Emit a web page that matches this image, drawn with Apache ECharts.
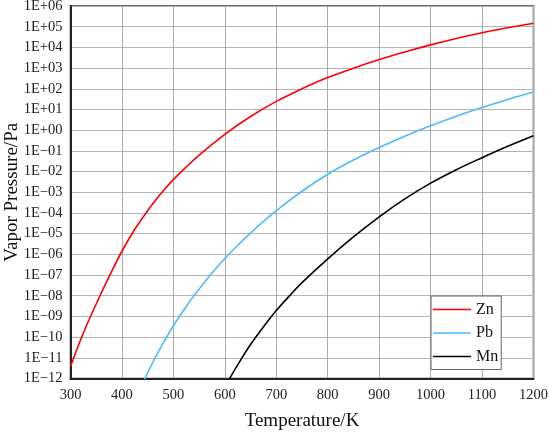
<!DOCTYPE html>
<html>
<head>
<meta charset="utf-8">
<script src="https://cdn.jsdelivr.net/npm/echarts@6/dist/echarts.min.js"></script>
<style>
html,body{margin:0;padding:0;background:#fff;}
#chart{width:550px;height:432px;}
</style>
</head>
<body>
<div id="chart"></div>
<script>
const seriesNames = ['Zn', 'Pb', 'Mn'];
const seriesColors = ['#ff0000', '#4dbbff', '#000000'];

const znT = [300,325,350,375,400,425,450,475,500,550,600,650,700,750,800,850,900,950,1000,1050,1100,1150,1200];
const znP = [3.80e-12,1.58e-10,3.98e-9,8.32e-8,1.41e-6,1.62e-5,1.29e-4,8.13e-4,4.07e-3,6.17e-2,0.631,4.57,24.5,100,347,977,2570,6030,13200,26900,51300,89100,148000];

const pbT = [440,450,475,500,525,550,575,600,625,650,675,700,750,800,850,900,950,1000,1050,1100,1150,1200];
const pbP = [5.62e-13,1.91e-12,3.02e-11,3.55e-10,3.02e-9,2.09e-8,1.26e-7,6.31e-7,2.75e-6,1.07e-5,3.89e-5,1.29e-4,1.12e-3,7.41e-3,3.63e-2,0.145,0.513,1.62,4.68,12.3,30.2,69.2];

const mnT = [600,625,650,675,700,725,750,800,850,900,950,1000,1050,1100,1150,1200];
const mnP = [3.98e-13,4.57e-12,4.37e-11,3.09e-10,1.91e-9,9.55e-9,4.27e-8,6.03e-7,6.92e-6,6.46e-5,4.79e-4,2.75e-3,1.23e-2,4.68e-2,0.166,0.537];

const xMin = 300, xMax = 1200, xStep = 100;
const yMin = 1e-12, yMax = 1e6;
const xTitle = 'Temperature/K';
const yTitle = 'Vapor Pressure/Pa';

const FONT = '"Liberation Serif", "Times New Roman", "DejaVu Serif", serif';

function zip(t, p) { return t.map((v, i) => [v, p[i]]); }
function sciLabel(v) {
  const e = Math.round(Math.log10(v));
  const s = e < 0 ? '\u2212' : '+';
  const a = Math.abs(e);
  return '1E' + s + (a < 10 ? '0' : '') + a;
}

const chart = echarts.init(document.getElementById('chart'), null, {renderer: 'canvas'});
const allData = [zip(znT, znP), zip(pbT, pbP), zip(mnT, mnP)];

chart.setOption({
  backgroundColor: '#ffffff',
  animation: false,
  grid: {
    left: 70.5, top: 6, right: 16.5, bottom: 53.5,
    containLabel: false, outerBoundsMode: 'none',
    show: true, borderColor: '#333333', borderWidth: 1.5, backgroundColor: 'transparent'
  },
  legend: {
    orient: 'vertical',
    left: 431, top: 296,
    data: seriesNames,
    icon: 'path://M0,0 H38 V1.6 H0 Z',
    itemWidth: 38, itemHeight: 14, itemGap: 7.5,
    padding: [5.5, 3, 5, 2],
    backgroundColor: '#ffffff',
    borderColor: '#666666', borderWidth: 1, borderRadius: 0,
    textStyle: {fontFamily: FONT, fontSize: 16, color: '#111', padding: [0, 0, 0, 0]},
    itemStyle: {borderWidth: 0}
  },
  xAxis: {
    type: 'value', min: xMin, max: xMax, interval: xStep,
    name: xTitle, nameLocation: 'middle', nameGap: 33,
    nameTextStyle: {fontFamily: FONT, fontSize: 19, color: '#111'},
    axisLine: {show: true, onZero: false, lineStyle: {color: '#222', width: 2}},
    axisTick: {show: false},
    axisLabel: {fontFamily: FONT, fontSize: 14.5, color: '#222', margin: 9, formatter: v => String(v)},
    splitLine: {show: true, lineStyle: {color: '#aaaaaa', width: 1}}
  },
  yAxis: {
    type: 'log', logBase: 10, min: yMin, max: yMax, interval: 1,
    name: yTitle, nameLocation: 'middle', nameGap: 49, nameRotate: 90, nameMoveOverlap: false,
    nameTextStyle: {fontFamily: FONT, fontSize: 19, color: '#111'},
    axisLine: {show: true, onZero: false, lineStyle: {color: '#222', width: 2}},
    axisTick: {show: false},
    axisLabel: {fontFamily: FONT, fontSize: 14.5, color: '#222', margin: 8, formatter: sciLabel},
    splitLine: {show: true, lineStyle: {color: '#b4b4b4', width: 1}}
  },
  series: seriesNames.map((n, i) => ({
    name: n, type: 'line', data: allData[i],
    symbol: 'none', smooth: 0.4, clip: true,
    itemStyle: {color: seriesColors[i]},
    lineStyle: {color: seriesColors[i], width: 1.6}
  }))
});
</script>
</body>
</html>
